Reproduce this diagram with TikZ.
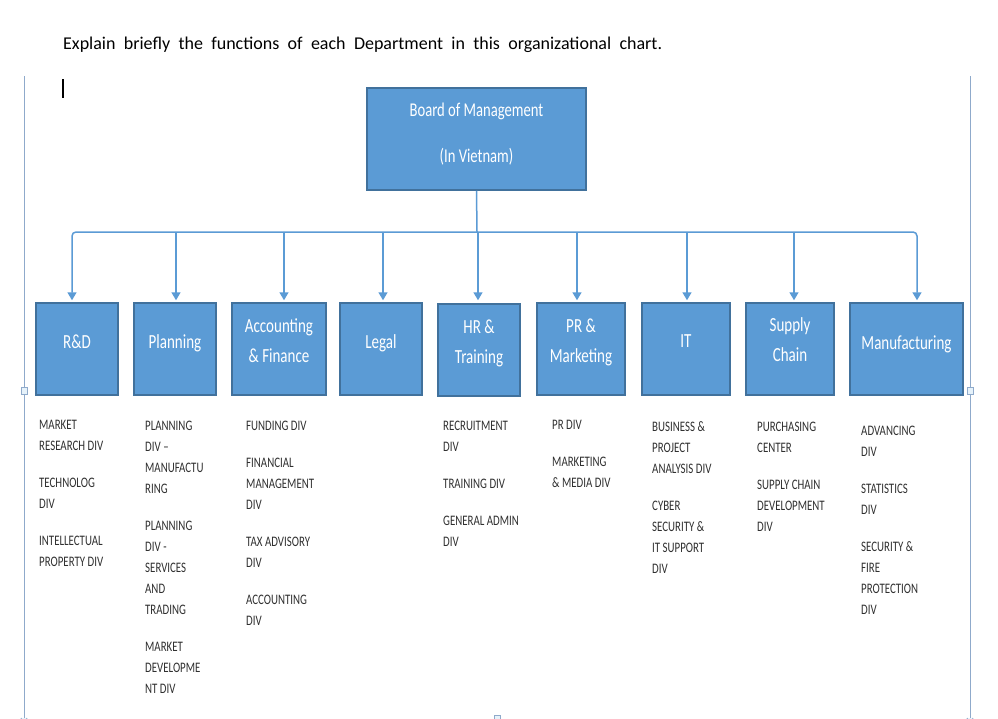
\documentclass[tikz,border=0pt]{standalone}
\usepackage{fontspec}
\setmainfont{Carlito}
\newfontfamily\condfont[FakeStretch=0.75]{Carlito}
\usetikzlibrary{arrows.meta}
\definecolor{boxfill}{HTML}{5B9BD5}
\definecolor{boxborder}{HTML}{41719C}
\definecolor{connc}{HTML}{5B9BD5}
\definecolor{pagec}{HTML}{8FAACB}
\definecolor{divc}{HTML}{303030}
\definecolor{handlec}{HTML}{E6F2FA}
\tikzset{
  deptbox/.style={draw=boxborder, fill=boxfill, line width=1.5pt, inner sep=0pt, minimum height=92pt},
  boardbox/.style={draw=boxborder, fill=boxfill, line width=1.5pt, inner sep=0pt, minimum width=219pt, minimum height=102pt},
  depttext/.style={text=white, font=\condfont\fontsize{20}{30}\selectfont, align=center, inner sep=0pt},
  boardtext/.style={text=white, font=\condfont\fontsize{19.5}{46}\selectfont, align=center, inner sep=0pt},
  connline/.style={draw=connc, line width=1.5pt},
  conn/.style={draw=connc, line width=1.5pt, rounded corners=4pt, shorten >=2pt, -{Triangle[width=9pt,length=8pt]}},
  divtext/.style={text=divc, font=\condfont\fontsize{14.5}{21}\selectfont, align=left, anchor=north west, inner sep=0pt},
  pageline/.style={draw=pagec, line width=1pt},
  handle/.style={draw=pagec, fill=handlec, line width=0.8pt, minimum width=6pt, minimum height=7pt, inner sep=0pt},
}
\begin{document}
\begin{tikzpicture}[x=1pt,y=-1pt]
\fill[white] (0,0) rectangle (998,718);
\path[use as bounding box] (0,0) rectangle (998,718);

% title and cursor
\node[anchor=base west, inner sep=0pt, font=\fontsize{18}{21}\selectfont] (title) at (63,49)
  {\makebox[599pt][s]{Explain briefly the functions of each Department in this organizational chart.}};
\coordinate (curtop) at (63,79);
\coordinate (curbot) at (63,98);
\draw[line width=1.5pt] (curtop) -- (curbot);

% page edge lines
\coordinate (lt) at (24,76); \coordinate (lb) at (24,718);
\coordinate (rt) at (970,76); \coordinate (rb) at (970,718);
\draw[pageline] (lt) -- (lb);
\draw[pageline] (rt) -- (rb);
\node[handle] (hl) at (24,391) {};
\node[handle] (hr) at (970,391) {};
\node[handle] (hb) at (497,719) {};
\draw[pageline, fill=handlec] (21,718) arc (180:0:3);
\draw[pageline, fill=handlec] (967,718) arc (180:0:3);

% board
\node[boardbox] (board) at (476.5,139) {};
\node[boardtext] (boardt) at ([yshift=9pt]board.center) {\strut Board of Management\\\strut (In Vietnam)};

% departments
\node[deptbox, minimum width=82pt] (rd) at (77,349) {};
\node[deptbox, minimum width=82pt] (pl) at (175,349) {};
\node[deptbox, minimum width=94pt] (acc) at (279,349) {};
\node[deptbox, minimum width=82pt] (leg) at (381,349) {};
\node[deptbox, minimum width=82pt] (hrt) at (479,350) {};
\node[deptbox, minimum width=88pt] (pr) at (581,349) {};
\node[deptbox, minimum width=88pt] (it) at (686,349) {};
\node[deptbox, minimum width=88pt] (sc) at (790,349) {};
\node[deptbox, minimum width=113pt] (mf) at (906.5,349) {};

\node[depttext] (rdt) at ([yshift=7pt]rd.center) {\strut R\&D};
\node[depttext] (plt) at ([yshift=7pt]pl.center) {\strut Planning};
\node[depttext] (acct) at ([yshift=8pt]acc.center) {\strut Accounting\\\strut \& Finance};
\node[depttext] (legt) at ([yshift=7pt]leg.center) {\strut Legal};
\node[depttext] (hrtt) at ([yshift=8pt]hrt.center) {\strut HR \&\\\strut Training};
\node[depttext] (prt) at ([yshift=8pt]pr.center) {\strut PR \&\\\strut Marketing};
\node[depttext] (itt) at ([yshift=8pt]it.center) {\strut IT};
\node[depttext] (sct) at ([yshift=9pt]sc.center) {\strut Supply\\\strut Chain};
\node[depttext] (mft) at ([yshift=6pt]mf.center) {\strut Manufacturing};

% connectors
\coordinate (bus) at (477,232);
\coordinate (rdin) at ([xshift=-5pt]rd.north);
\coordinate (plin) at ([xshift=1pt]pl.north);
\coordinate (accin) at ([xshift=5pt]acc.north);
\coordinate (legin) at ([xshift=2pt]leg.north);
\coordinate (hrin) at ([xshift=-1pt,yshift=1pt]hrt.north);
\coordinate (prin) at ([xshift=-4pt]pr.north);
\coordinate (itin) at ([xshift=1pt]it.north);
\coordinate (scin) at ([xshift=4pt]sc.north);
\coordinate (mfin) at ([xshift=10.5pt]mf.north);
\draw[connline] (board.south) -- (bus);
\draw[conn] (bus) -| (rdin);
\draw[conn] (bus) -| (mfin);
\draw[conn] (bus -| plin) -- (plin);
\draw[conn] (bus -| accin) -- (accin);
\draw[conn] (bus -| legin) -- (legin);
\draw[conn] (bus -| hrin) -- (hrin);
\draw[conn] (bus -| prin) -- (prin);
\draw[conn] (bus -| itin) -- (itin);
\draw[conn] (bus -| scin) -- (scin);

% division lists
\node[divtext] (rdl) at (39,420.4) {MARKET\\RESEARCH DIV\\[16pt]TECHNOLOG\\DIV\\[16pt]INTELLECTUAL\\PROPERTY DIV};
\node[divtext] (pll) at (145,420.4) {PLANNING\\DIV –\\MANUFACTU\\RING\\[16pt]PLANNING\\DIV -\\SERVICES\\AND\\TRADING\\[16pt]MARKET\\DEVELOPME\\NT DIV};
\node[divtext] (accl) at (246,420.4) {FUNDING DIV\\[16pt]FINANCIAL\\MANAGEMENT\\DIV\\[16pt]TAX ADVISORY\\DIV\\[16pt]ACCOUNTING\\DIV};
\node[divtext] (hrl) at (443,420.4) {RECRUITMENT\\DIV\\[16pt]TRAINING DIV\\[16pt]GENERAL ADMIN\\DIV};
\node[divtext] (prl) at (552,420.4) {PR DIV\\[16pt]MARKETING\\\& MEDIA DIV};
\node[divtext] (itl) at (652,421.4) {BUSINESS \&\\PROJECT\\ANALYSIS DIV\\[16pt]CYBER\\SECURITY \&\\IT SUPPORT\\DIV};
\node[divtext] (scl) at (757,421.4) {PURCHASING\\CENTER\\[16pt]SUPPLY CHAIN\\DEVELOPMENT\\DIV};
\node[divtext] (mfl) at (861,425.4) {ADVANCING\\DIV\\[16pt]STATISTICS\\DIV\\[16pt]SECURITY \&\\FIRE\\PROTECTION\\DIV};
\end{tikzpicture}
\end{document}
